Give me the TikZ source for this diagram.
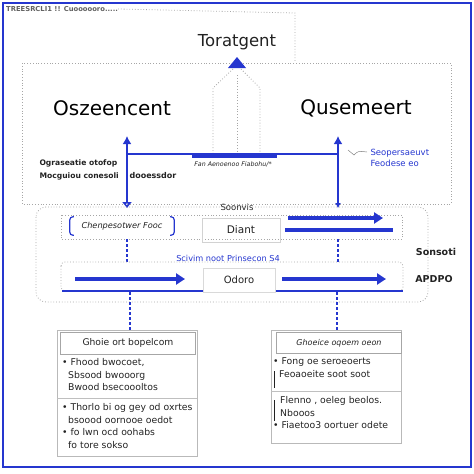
\documentclass[tikz,border=0pt]{standalone}
\usepackage{fontspec}
\setmainfont{DejaVu Sans}
\usetikzlibrary{arrows.meta, positioning, calc}
\definecolor{diagblue}{HTML}{2536CF}
\definecolor{inktext}{HTML}{222222}
\tikzset{
  dotline/.style={gray!70, dotted, line width=0.8pt},
  blueshaft/.style={diagblue, line width=3.6pt, -{Triangle[length=9pt,width=11pt]}},
  bluelink/.style={diagblue, densely dashed, line width=1.1pt},
  smalltxt/.style={font=\fontsize{9.3}{12.8}\selectfont, text=inktext},
  boxhead/.style={draw=gray!70, line width=0.9pt, minimum height=22pt, font=\fontsize{9.2}{10}\selectfont, text=inktext, anchor=north west},
  panel/.style={draw=gray!55, line width=0.6pt, anchor=north west},
}
\begin{document}
\begin{tikzpicture}[x=1pt,y=-1pt]
\useasboundingbox (0,0) rectangle (474,474);
\draw[diagblue, line width=2pt] (3,3) rectangle (471,467);

% top header and agent
\node[anchor=west, font=\bfseries\fontsize{6.8}{7}\selectfont, text=gray!75!black, inner sep=0] (hdr) at (6,9) {TREESRCLI1 !! Cuoooooro.....};
\coordinate (hdrend) at (295,13);
\coordinate (hdrdown) at (295,61);
\draw[dotline] (hdr.east) -- (hdrend) -- (hdrdown);
\node[font=\fontsize{16.5}{18}\selectfont, text=inktext] (topagent) at (237,42) {Toratgent};

% upper region
\draw[dotline] (22,63) rectangle (451,204);
\coordinate (apex) at (237,63);
\fill[diagblue] ($(apex)+(-9,5)$) -- ($(apex)+(0,-6)$) -- ($(apex)+(9,5)$) -- cycle;
\draw[dotline] (233,69) -- (213,88) -- (213,154);
\draw[dotline] (241,69) -- (260,88) -- (260,154);
\draw[dotline] (237,75) -- (237,152);

\node[font=\fontsize{20}{23}\selectfont, text=black] (leftagent) at (112,108) {Oszeencent};
\node[font=\fontsize{20}{23}\selectfont, text=black] (rightagent) at (356,108) {Qusemeert};

% shared channel
\coordinate (lx) at (127,154);
\coordinate (rx) at (338,154);
\draw[diagblue, line width=1.3pt] (lx) -- (rx);
\draw[diagblue, line width=3pt] (192,156) -- (277,156);
\node[font=\itshape\fontsize{6.3}{7}\selectfont, text=inktext] (barlabel) at (233,164) {Fan Aenoenoo Fiabohu/*};

\coordinate (ltop) at (127,136);
\coordinate (lbot) at (127,208);
\coordinate (rtop) at (338,136);
\coordinate (rbot) at (338,208);
\draw[diagblue, line width=2.4pt, {Triangle[open,length=6pt,width=9pt]}-{Latex[length=8pt,width=9pt]}] (lbot) -- (ltop);
\draw[diagblue, line width=2.4pt, {Latex[length=5pt,width=6pt]}-{Latex[length=8pt,width=9pt]}] (rbot) -- (rtop);

\node[font=\bfseries\fontsize{7.6}{13}\selectfont, text=inktext, align=left, anchor=west] (lnote) at (36,170) {Ograseatie otofop\\Mocguiou conesoli};
\node[font=\bfseries\fontsize{8}{9}\selectfont, text=inktext] (lnote2) at (153,176) {dooessdor};
\node[font=\fontsize{8.5}{10.5}\selectfont, text=diagblue, align=left, anchor=west] (rnote) at (367,158) {Seopersaeuvt\\Feodese eo};
\draw[gray, line width=0.5pt] (348,150) -- (354,155) .. controls (358,151) .. (rnote.west |- 0,152);

% middle region
\node[font=\fontsize{8.5}{9}\selectfont, text=inktext] (soonvis) at (237,207) {Soonvis};
\draw[dotline, rounded corners=10pt] (36,207) rectangle (428,302);

% row 1
\draw[dotline] (61,215) rectangle (402,239);
\node[font=\itshape\fontsize{8.2}{9}\selectfont, text=inktext, minimum width=104pt, minimum height=18pt] (chen) at (122,226) {Chenpesotwer Fooc};
\draw[diagblue, line width=1.2pt, rounded corners=3pt] ([xshift=4pt]chen.north west) -- (chen.north west) -- (chen.south west) -- ([xshift=4pt]chen.south west);
\draw[diagblue, line width=1.2pt, rounded corners=3pt] ([xshift=-4pt]chen.north east) -- (chen.north east) -- (chen.south east) -- ([xshift=-4pt]chen.south east);
\node[draw=gray!35, minimum width=78pt, minimum height=24pt, font=\fontsize{10.5}{11}\selectfont, text=inktext] (diant) at (241,230) {Diant};
\coordinate (a1s) at (288,218);
\coordinate (a1e) at (383,218);
\draw[blueshaft] (a1s) -- (a1e);
\draw[diagblue, line width=4.5pt] (285,230) -- (393,230);

\draw[bluelink] (127,239) -- (127,262);
\draw[bluelink] (338,239) -- (338,262);
\node[text=diagblue, font=\fontsize{8.2}{9}\selectfont] (scivim) at (228,258) {Scivim noot Prinsecon S4};

% row 2
\draw[dotline, rounded corners=4pt] (61,262) rectangle (403,291);
\draw[diagblue, line width=1.3pt] (62,291) -- (204,291);
\draw[diagblue, line width=1.3pt] (274,291) -- (403,291);
\node[draw=gray!30, fill=white, minimum width=72pt, minimum height=24pt, font=\fontsize{10}{11}\selectfont, text=inktext] (odoro) at (239,280) {Odoro};
\coordinate (a2s) at (75,279);
\coordinate (a2e) at (185,279);
\coordinate (a3s) at (282,279);
\coordinate (a3e) at (386,279);
\draw[blueshaft] (a2s) -- (a2e);
\draw[blueshaft] (a3s) -- (a3e);

\node[font=\bfseries\fontsize{9.5}{10}\selectfont, text=inktext] (sonsoti) at (436,252) {Sonsoti};
\node[font=\bfseries\fontsize{9.5}{10}\selectfont, text=inktext] (apdpo) at (434,279) {APDPO};

% lower panels
\node[panel, minimum width=140pt, minimum height=126pt] (lpanel) at (57,330) {};
\node[panel, minimum width=130pt, minimum height=113pt] (rpanel) at (271,330) {};
\draw[bluelink] (130,292) -- (130,330);
\draw[bluelink] (337,292) -- (337,330);

\node[boxhead, minimum width=135pt] (lhead) at (60,332) {Ghoie ort bopelcom};
\node[boxhead, minimum width=125pt, minimum height=21pt, font=\itshape\fontsize{8}{9}\selectfont] (rhead) at (276,332) {Ghoeice oqoem oeon};

\draw[gray!50] (57,398) -- (197,398);
\draw[gray!50] (271,391) -- (401,391);

\node[smalltxt, align=left, anchor=north west, inner sep=0] (litems1) at (62,358) {\textbullet\ Fhood bwocoet,\\\hspace*{6pt}Sbsood bwooorg\\\hspace*{6pt}Bwood bsecoooltos};
\node[smalltxt, align=left, anchor=north west, inner sep=0] (litems2) at (62,403) {\textbullet\ Thorlo bi og gey od oxrtes\\\hspace*{6pt}bsoood oornooe oedot\\\textbullet\ fo lwn ocd oohabs\\\hspace*{6pt}fo tore sokso};
\node[smalltxt, align=left, anchor=north west, inner sep=0] (ritems1) at (273,358) {\textbullet\ Fong oe seroeoerts\\\hspace*{6pt}Feoaoeite soot soot};
\node[smalltxt, align=left, anchor=north west, inner sep=0] (ritems2) at (280,396) {Flenno , oeleg beolos.\\Nbooos\\\hspace*{-7pt}\textbullet\ Fiaetoo3 oortuer odete};
\draw[inktext, line width=0.6pt] (274,371) -- (274,388);
\draw[inktext, line width=0.6pt] (274,400) -- (274,421);
\end{tikzpicture}
\end{document}
